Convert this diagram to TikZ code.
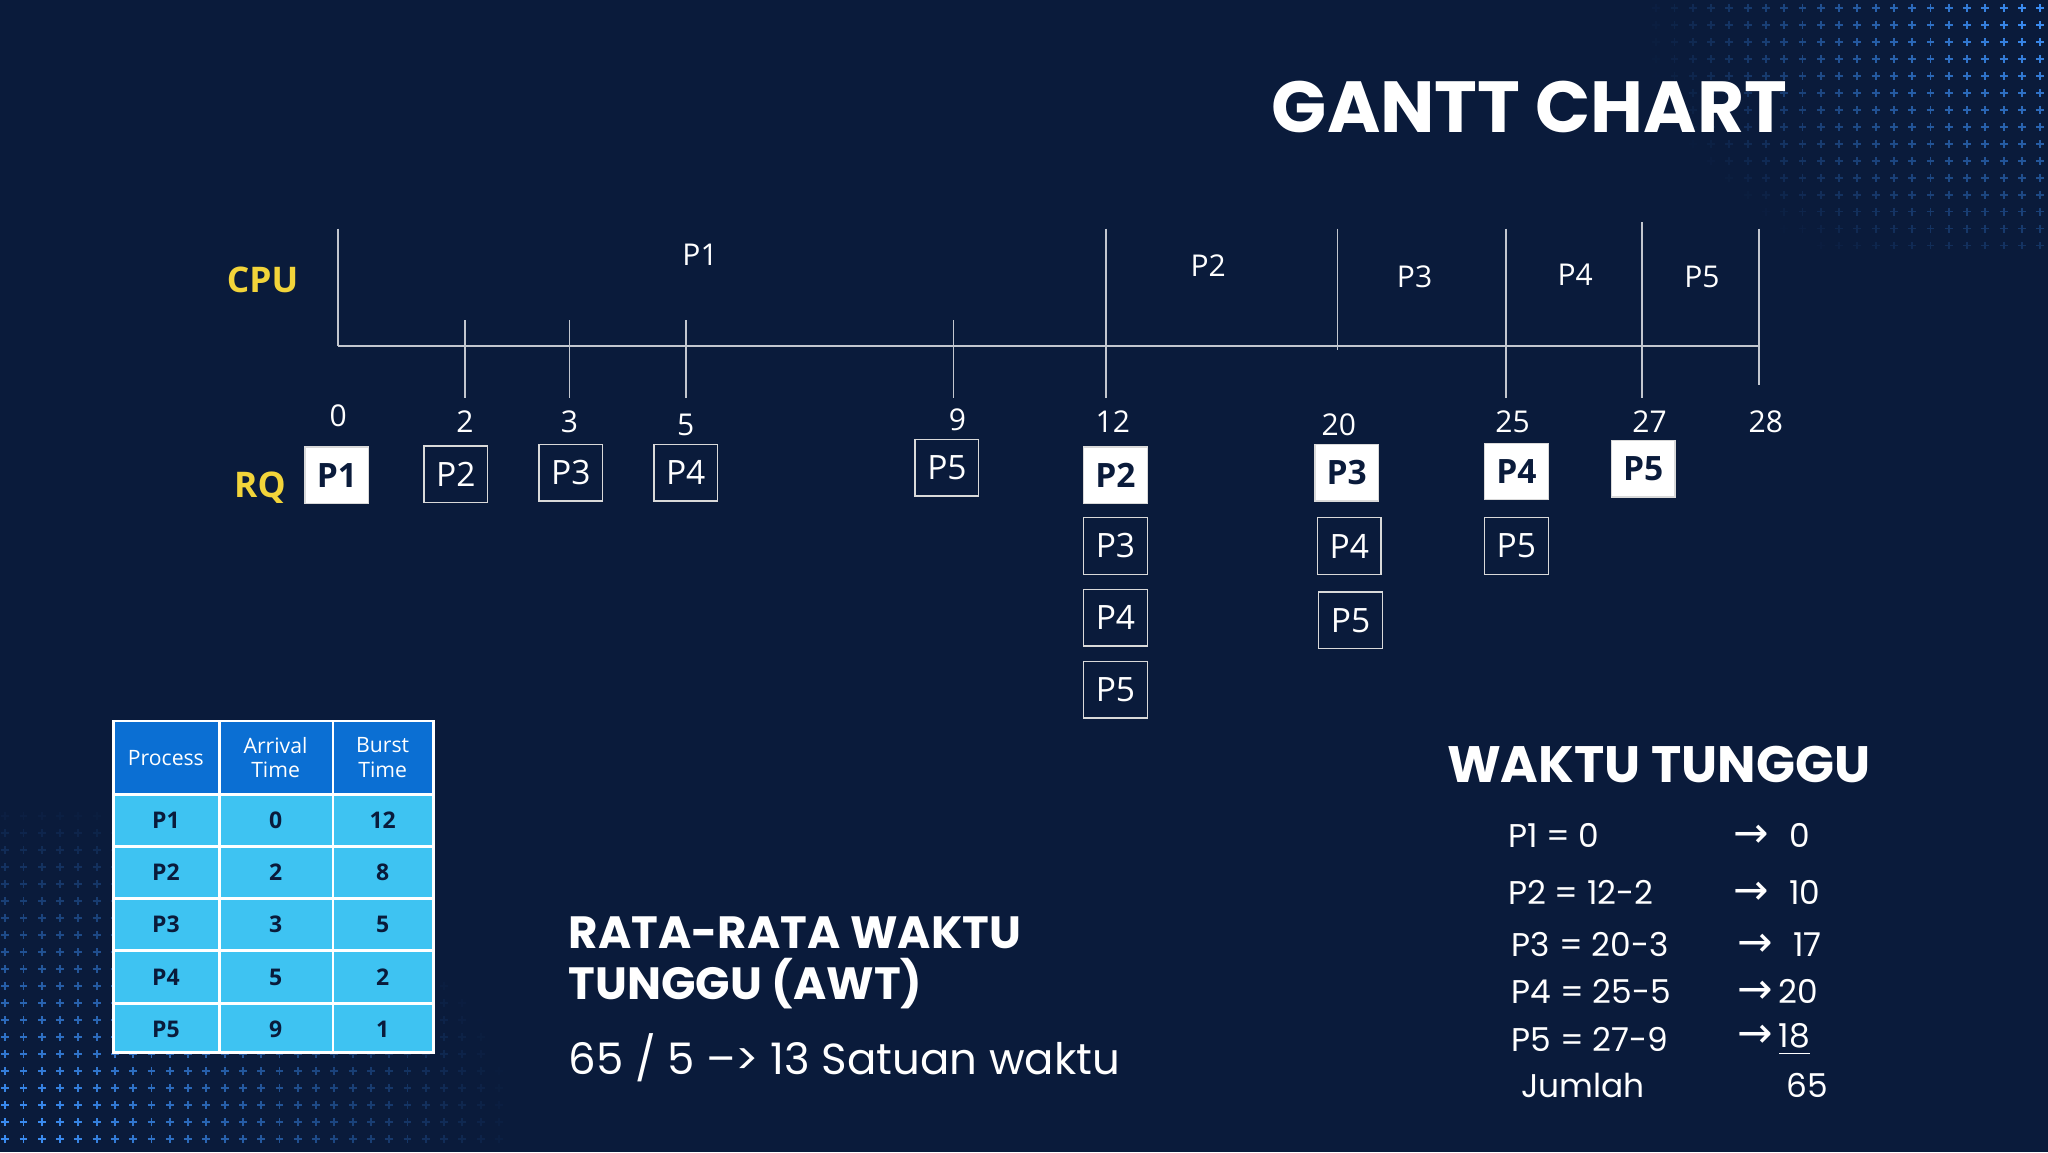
\documentclass[tikz,border=0pt]{standalone}
\usepackage{fontspec}
\setmainfont{Open Sans}
\newfontfamily\popfont{Poppins}
\newfontfamily\dejafont{DejaVu Sans}
\usetikzlibrary{positioning, calc}
\definecolor{navy}{HTML}{0A1B3B}
\definecolor{dotblue}{HTML}{3A8BF0}
\definecolor{hdrblue}{HTML}{0B6FD3}
\definecolor{rowblue}{HTML}{3EC3F2}
\definecolor{cpuyel}{HTML}{F2D43A}
\tikzstyle{rqbox}=[draw=white!85!black, minimum width=18pt, minimum height=16pt, inner sep=0pt, text=white, font=\fontsize{9.5}{10}\selectfont]
\tikzstyle{rqnow}=[rqbox, fill=white, text=navy, font=\fontsize{9.5}{10}\selectfont\bfseries]
\tikzstyle{tick}=[draw=white!75!navy, line width=0.5pt]
\tikzstyle{num}=[text=white, font=\fontsize{8.5}{9}\selectfont]
\tikzstyle{cell}=[text=white, font=\fontsize{6}{7}\selectfont, align=center]
\tikzstyle{wt}=[text=white, anchor=west, font=\popfont\fontsize{9.3}{10}\selectfont]
\begin{document}
\begin{tikzpicture}[x=0.3699pt, y=-0.3699pt]
\fill[navy] (0,0) rectangle (1568,882);
\useasboundingbox (0,0) rectangle (1568,882);
% the dots
\foreach \i in {0,...,24} {
  \foreach \j in {0,...,14} {
    \pgfmathsetmacro{\op}{max(0, 1.1 - sqrt((24-\i)^2*0.6 + \j^2)/16)}
    \draw[dotblue, line width=0.5pt, opacity=\op] ($(1240+\i*14, 6+\j*13)+(-3,0)$) -- ++(6,0) ($(1240+\i*14, 6+\j*13)+(0,-3)$) -- ++(0,6);
  }
}
\foreach \i in {0,...,27} {
  \foreach \j in {0,...,19} {
    \pgfmathsetmacro{\op}{max(0, 1.1 - sqrt(\i^2*0.5 + (19-\j)^2)/18)}
    \draw[dotblue, line width=0.5pt, opacity=\op] ($(4+\i*14, 625+\j*13)+(-3,0)$) -- ++(6,0) ($(4+\i*14, 625+\j*13)+(0,-3)$) -- ++(0,6);
  }
}
% the title
\node[text=white, font=\popfont\fontsize{20.5}{21}\selectfont\bfseries] (title) at (1171,82) {GANTT CHART};
% the axis
\coordinate (A0) at (259,265);
\coordinate (A28) at (1347,265);
\draw[tick] (A0) -- (A28);
\draw[tick] (259,175) -- (259,265);
\draw[tick] (847,175) -- (847,305);
\draw[tick] (1024,175) -- (1024,268);
\draw[tick] (1153,175) -- (1153,305);
\draw[tick] (1257,170) -- (1257,305);
\draw[tick] (1347,175) -- (1347,295);
\foreach \x in {356,436,525,730} \draw[tick] (\x,245) -- (\x,305);
% the times
\node[num] (t0) at (259,318) {0};
\node[num] (t2) at (356,323) {2};
\node[num] (t3) at (436,323) {3};
\node[num] (t5) at (525,325) {5};
\node[num] (t9) at (733,321) {9};
\node[num] (t12) at (852,323) {12};
\node[num] (t20) at (1025,325) {20};
\node[num] (t25) at (1158,323) {25};
\node[num] (t27) at (1263,323) {27};
\node[num] (t28) at (1352,323) {28};
% the cpu
\node[text=cpuyel, font=\fontsize{10}{11}\selectfont\bfseries] (cpu) at (201,214) {CPU};
\node[text=cpuyel, font=\fontsize{10}{11}\selectfont\bfseries] (rq) at (199,373) {RQ};
\node[num] (c1) at (536,195) {P1};
\node[num] (c2) at (925,203) {P2};
\node[num] (c3) at (1083,212) {P3};
\node[num] (c4) at (1206,210) {P4};
\node[num] (c5) at (1303,212) {P5};
% the ready queue
\node[rqnow] (q1) at (258,364) {P1};
\node[rqbox] (q2) at (349,363) {P2};
\node[rqbox] (q3) at (437,362) {P3};
\node[rqbox] (q4) at (525,362) {P4};
\node[rqbox] (q5) at (725,358) {P5};
\node[rqnow] (r2) at (854,364) {P2};
\node[rqbox] (r3) at (854,418) {P3};
\node[rqbox] (r4) at (854,473) {P4};
\node[rqbox] (r5) at (854,528) {P5};
\node[rqnow] (s3) at (1031,362) {P3};
\node[rqbox] (s4) at (1033,418) {P4};
\node[rqbox] (s5) at (1034,475) {P5};
\node[rqnow] (u4) at (1161,361) {P4};
\node[rqbox] (u5) at (1161,418) {P5};
\node[rqnow] (v5) at (1258,359) {P5};
% the table
\fill[hdrblue] (87,552) rectangle (332,608);
\fill[rowblue] (87,608) rectangle (332,806);
\draw[white, line width=0.8pt] (87,552) rectangle (332,806);
\foreach \x in {168,255} \draw[white, line width=0.8pt] (\x,552) -- (\x,806);
\foreach \y in {608,648,688,728,768} \draw[white, line width=0.8pt] (87,\y) -- (332,\y);
\node[cell] (h1) at (127,580) {Process};
\node[cell] (h2) at (211,580) {Arrival\\Time};
\node[cell] (h3) at (293,580) {Burst\\Time};
\foreach \p/\a/\b [count=\k] in {P1/0/12, P2/2/8, P3/3/5, P4/5/2, P5/9/1} {
  \node[cell, text=navy, font=\fontsize{6.5}{7}\selectfont\bfseries] (p\k) at (127,588+\k*40) {\p};
  \node[cell, text=navy, font=\fontsize{6.5}{7}\selectfont\bfseries] (a\k) at (211,588+\k*40) {\a};
  \node[cell, text=navy, font=\fontsize{6.5}{7}\selectfont\bfseries] (b\k) at (293,588+\k*40) {\b};
}
% the average
\node[text=white, anchor=west, align=left, font=\popfont\fontsize{12.8}{14.5}\selectfont\bfseries] (awt) at (426,737) {RATA-RATA WAKTU\\TUNGGU (AWT)};
\node[text=white, anchor=west, font=\popfont\fontsize{12.3}{13}\selectfont] (res) at (426,810) {65 / 5 –> 13 Satuan waktu};
% the waiting times
\node[text=white, font=\popfont\fontsize{14.5}{15}\selectfont\bfseries] (wtt) at (1270,585) {WAKTU TUNGGU};
\node[wt] (w1) at (1145,640) {P1 = 0};
\node[wt] (w2) at (1145,683) {P2 = 12-2};
\node[wt] (w3) at (1148,723) {P3 = 20-3};
\node[wt] (w4) at (1148,759) {P4 = 25-5};
\node[wt] (w5) at (1148,796) {P5 = 27-9};
\node[wt] (wj) at (1155,831) {Jumlah};
\newcommand{\rarr}{{\dejafont\fontsize{12}{12}\selectfont→}}
\node[wt] (x1) at (1318,640) {\rarr\,\, 0};
\node[wt] (x2) at (1318,683) {\rarr\,\, 10};
\node[wt] (x3) at (1321,723) {\rarr\,\, 17};
\node[wt] (x4) at (1321,759) {\rarr\,20};
\node[wt] (x5) at (1321,796) {\rarr\,\underline{18}};
\node[wt] (xj) at (1358,831) {65};
\end{tikzpicture}
\end{document}
